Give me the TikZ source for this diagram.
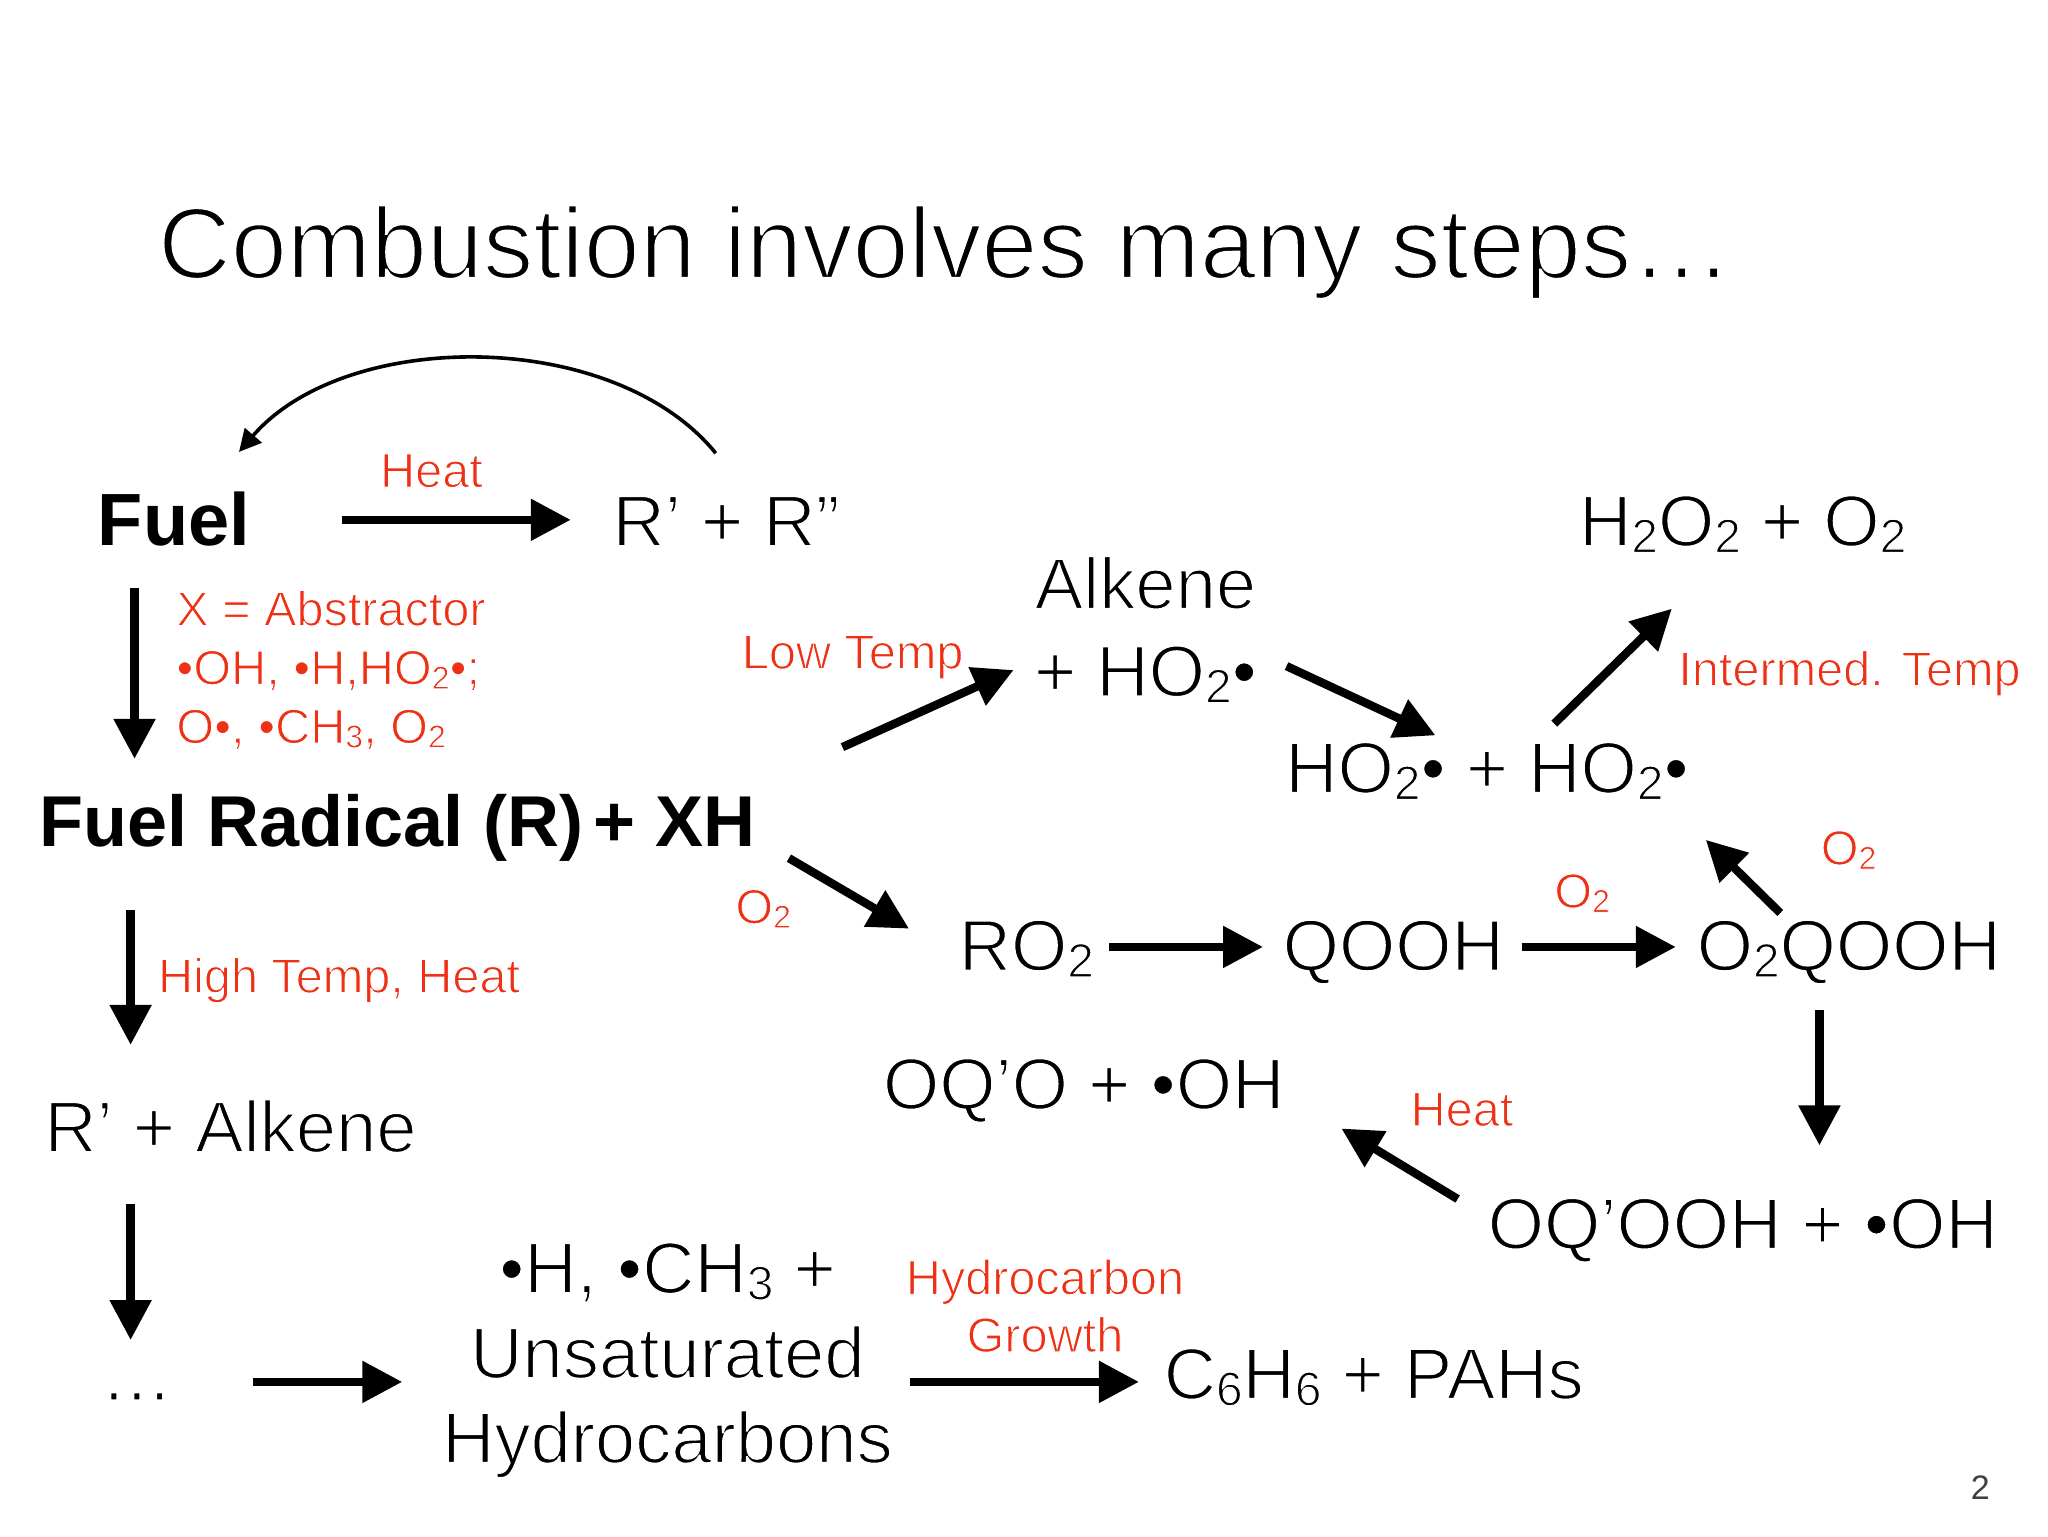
\documentclass[tikz,border=0pt]{standalone}
\usepackage{fontspec}
\usepackage{graphicx}
\setmainfont{Liberation Sans}
\usetikzlibrary{arrows.meta}
\definecolor{labred}{RGB}{238,48,20}
\let\curthin\relax
\newcommand\thinby[1]{\def\curthin{\special{pdf:code 2 Tr #1 w 1 1 1 RG}}\curthin}
\newcommand\dn[1]{\raisebox{-0.09em}{\scalebox{0.66}{\curthin #1}}\curthin}
\tikzset{
  txt/.style={inner sep=0pt,outer sep=0pt,anchor=base west},
  ttl/.style={txt,font=\fontsize{50.4}{54}\selectfont,execute at begin node={\thinby{1.3}}},
  bigt/.style={txt,font=\fontsize{36.2}{40}\selectfont,execute at begin node={\thinby{0.9}}},
  bigc/.style={bigt,anchor=base},
  boldt/.style={txt,font=\fontsize{36}{40}\selectfont\bfseries},
  lab/.style={txt,font=\fontsize{24.3}{28}\selectfont,execute at begin node={\color{labred}\thinby{0.55}}},
  labc/.style={lab,anchor=base},
  arr/.style={line width=4.2pt,-{Triangle[length=20pt,width=20pt]}},
  thinarr/.style={line width=1.8pt,-{Triangle[length=11pt,width=11pt]}},
}
\begin{document}
\begin{tikzpicture}[x=0.65306pt,y=-0.65306pt]
\fill[white] (0,0) rectangle (1568,1176);
\useasboundingbox (0,0) rectangle (1568,1176);
\node[ttl] (title) at (121,213) {Combustion involves many steps…};
\node[boldt,font=\fontsize{37}{40}\selectfont\bfseries] (fuel) at (75,418) {Fuel};
\node[bigt] (rr) at (469,418) {R’ + R”};
\node[boldt] (rad) at (30,648) {Fuel Radical (R)\hspace{-0.13em} + XH};
\node[bigc] (alk) at (877,466) {Alkene};
\node[bigc] (alkb) at (877,533) {+ HO\dn{2}•};
\node[bigt] (hh) at (1209,418) {H\dn{2}O\dn{2} + O\dn{2}};
\node[bigt] (hoho) at (984,607) {HO\dn{2}• + HO\dn{2}•};
\node[bigt] (ro) at (734,743) {RO\dn{2}};
\node[bigt] (qooh) at (982,743) {QOOH};
\node[bigt] (oqooh) at (1299,743) {O\dn{2}QOOH};
\node[bigt] (oqo) at (676,849) {OQ’O + •OH};
\node[bigt] (ralk) at (34,882) {R’ + Alkene};
\node[bigt] (oqoh) at (1139,956) {OQ’OOH + •OH};
\node[bigt] (dots) at (77,1072) {…};
\node[bigc] (hca) at (511,990) {•H, •CH\dn{3} +};
\node[bigc] (hcb) at (511,1055) {Unsaturated};
\node[bigc] (hcc) at (511,1120) {Hydrocarbons};
\node[bigt] (cc) at (891,1071) {C\dn{6}H\dn{6} + PAHs};
\node[lab] (l1) at (291,373) {Heat};
\node[lab] (l2) at (135,479) {X = Abstractor};
\node[lab] (l3) at (135,524) {•OH, •H,HO\dn{2}•;};
\node[lab] (l4) at (135,569) {O•, •CH\dn{3}, O\dn{2}};
\node[lab] (l5) at (568,512) {Low Temp};
\node[lab] (l6) at (1285,525) {Intermed. Temp};
\node[lab] (l7) at (1394,662) {O\dn{2}};
\node[lab] (l8) at (1190,695) {O\dn{2}};
\node[lab] (l9) at (563,707) {O\dn{2}};
\node[lab] (l10) at (121,760) {High Temp, Heat};
\node[lab] (l11) at (1080,862) {Heat};
\node[labc] (l12) at (800,991) {Hydrocarbon};
\node[labc] (l13) at (800,1035) {Growth};
\node[txt,font=\fontsize{17}{20}\selectfont,text=black!75] (pg) at (1509,1148) {2};
\draw[arr] ([shift={(262-75,398-418)}]fuel.base west) -- ([shift={(437-469,398-418)}]rr.base west);
\draw[arr] ([shift={(103-75,450-418)}]fuel.base west) -- ([shift={(103-30,581-648)}]rad.base west);
\draw[arr] ([shift={(645-30,572-648)}]rad.base west) -- ([shift={(776-877,513-533)}]alkb.base);
\draw[arr] ([shift={(604-30,657-648)}]rad.base west) -- ([shift={(696-734,711-743)}]ro.base west);
\draw[arr] ([shift={(100-30,697-648)}]rad.base west) -- ([shift={(100-34,800-882)}]ralk.base west);
\draw[arr] ([shift={(100-34,922-882)}]ralk.base west) -- ([shift={(100-77,1026-1072)}]dots.base west);
\draw[arr] ([shift={(194-77,1058-1072)}]dots.base west) -- ([shift={(308-511,1058-1055)}]hcb.base);
\draw[arr] ([shift={(697-511,1058-1055)}]hcb.base) -- ([shift={(872-891,1058-1071)}]cc.base west);
\draw[arr] ([shift={(849-734,725-743)}]ro.base west) -- ([shift={(967-982,725-743)}]qooh.base west);
\draw[arr] ([shift={(1165-982,725-743)}]qooh.base west) -- ([shift={(1283-1299,725-743)}]oqooh.base west);
\draw[arr] ([shift={(1363-1299,699-743)}]oqooh.base west) -- ([shift={(1306-984,643-607)}]hoho.base west);
\draw[arr] ([shift={(1393-1299,773-743)}]oqooh.base west) -- ([shift={(1393-1139,877-956)}]oqoh.base west);
\draw[arr] ([shift={(1116-1139,918-956)}]oqoh.base west) -- ([shift={(1027-676,864-849)}]oqo.base west);
\draw[arr] ([shift={(985-877,510-533)}]alkb.base) -- ([shift={(1099-984,563-607)}]hoho.base west);
\draw[arr] ([shift={(1190-984,554-607)}]hoho.base west) -- ([shift={(1280-1209,466-418)}]hh.base west);
\draw[thinarr] ([shift={(548-469,347-418)}]rr.base west) .. controls (470,251) and (265,251) .. ([shift={(183-75,346-418)}]fuel.base west);
\end{tikzpicture}
\end{document}
